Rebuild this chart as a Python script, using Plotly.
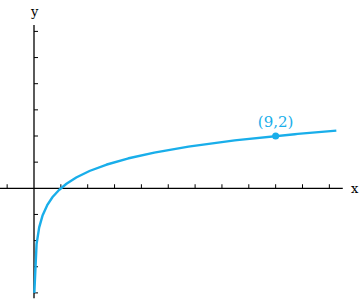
import numpy as np
import plotly.graph_objects as go

# Function y = log_base(x)
base = 3
x_start = 3.0 ** -4
x_end = 11.26
point_x = [9]
point_y = [2]
point_label = ["(9,2)"]

x_ticks = [-1, 1, 2, 3, 4, 5, 6, 7, 8, 9, 10, 11]
y_ticks = [-4, -3, -2, -1, 1, 2, 3, 4, 5, 6]

# axis extents
x_axis_ext = [-1.27, 11.5]
y_axis_ext = [-4.2, 6.24]

blue = "#19aeea"
font_family = "DejaVu Serif"

xs = np.geomspace(x_start, x_end, 600)
ys = np.log(xs) / np.log(base)

fig = go.Figure()
fig.add_trace(go.Scatter(x=xs, y=ys, mode="lines",
                         line=dict(color=blue, width=2.4), hoverinfo="skip"))
fig.add_trace(go.Scatter(x=point_x, y=point_y, mode="markers+text",
                         marker=dict(color=blue, size=7),
                         text=point_label, textposition="top center",
                         textfont=dict(color=blue, size=15, family=font_family)))

shapes = []
shapes.append(dict(type="line", x0=x_axis_ext[0], x1=x_axis_ext[1], y0=0, y1=0,
                   line=dict(color="black", width=1.3), layer="below"))
shapes.append(dict(type="line", x0=0, x1=0, y0=y_axis_ext[0], y1=y_axis_ext[1],
                   line=dict(color="black", width=1.3), layer="below"))
for t in x_ticks:
    shapes.append(dict(type="line", x0=t, x1=t, y0=0, y1=0.155,
                       line=dict(color="black", width=1), layer="below"))
for t in y_ticks:
    shapes.append(dict(type="line", x0=0, x1=0.15, y0=t, y1=t,
                       line=dict(color="black", width=1), layer="below"))

fig.update_layout(
    width=360, height=304,
    margin=dict(l=0, r=0, t=0, b=0),
    plot_bgcolor="white", paper_bgcolor="white",
    showlegend=False,
    shapes=shapes,
    xaxis=dict(range=[-34 / 26.85, (360 - 34) / 26.85], visible=False, fixedrange=True),
    yaxis=dict(range=[-(304 - 188.3) / 26.15, 188.3 / 26.15], visible=False, fixedrange=True),
    annotations=[
        dict(x=(354.5 - 34) / 26.85, y=0, text="x", showarrow=False,
             font=dict(size=13, family=font_family, color="black")),
        dict(x=0, y=(188.3 - 11.5) / 26.15, text="y", showarrow=False,
             font=dict(size=13, family=font_family, color="black")),
    ],
)

fig.write_html("out.html")
